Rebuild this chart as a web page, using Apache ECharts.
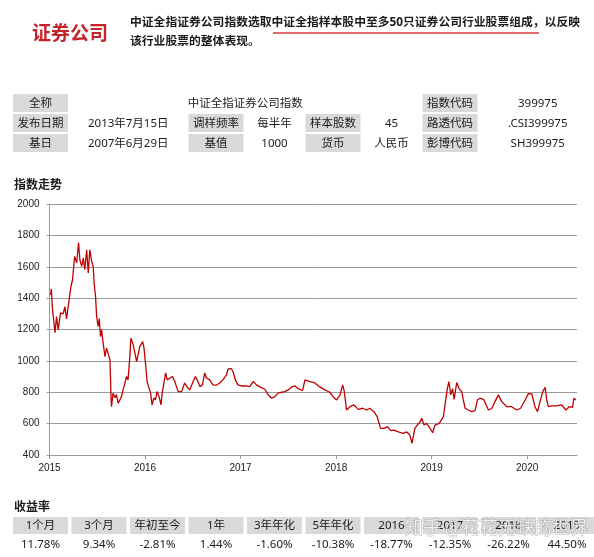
<!DOCTYPE html>
<html>
<head>
<meta charset="utf-8">
<script src="https://cdn.jsdelivr.net/npm/echarts@6/dist/echarts.min.js"></script>
<style>
  html, body { margin: 0; padding: 0; background: #fff; }
  #main { width: 594px; height: 557px; }
</style>
</head>
<body>
<div id="main"></div>
<script>
// 指数走势 (收盘点位，读图估计)
const dates = [
  '2015-01-05','2015-01-08','2015-01-12','2015-01-18','2015-01-22','2015-01-28','2015-02-03','2015-02-12','2015-02-22','2015-03-01',
  '2015-03-07','2015-03-17','2015-03-24','2015-03-30','2015-04-07','2015-04-15','2015-04-22','2015-04-27','2015-05-04','2015-05-10',
  '2015-05-16','2015-05-23','2015-05-29','2015-06-04','2015-06-11','2015-06-17','2015-06-21','2015-06-26','2015-06-30','2015-07-06',
  '2015-07-10','2015-07-15','2015-07-19','2015-07-25','2015-08-01','2015-08-07','2015-08-13','2015-08-20','2015-08-24','2015-08-26',
  '2015-09-01','2015-09-08','2015-09-14','2015-09-20','2015-09-27','2015-10-03','2015-10-09','2015-10-16','2015-10-22','2015-10-28',
  '2015-11-01','2015-11-04','2015-11-08','2015-11-17','2015-11-23','2015-11-30','2015-12-06','2015-12-12','2015-12-23','2015-12-28',
  '2016-01-04','2016-01-09','2016-01-16','2016-01-22','2016-01-28','2016-02-04','2016-02-10','2016-02-16','2016-02-24','2016-03-02',
  '2016-03-07','2016-03-14','2016-03-20','2016-03-26','2016-04-05','2016-04-15','2016-04-24','2016-05-07','2016-05-20','2016-06-01',
  '2016-06-10','2016-06-20','2016-07-01','2016-07-12','2016-07-22','2016-07-29','2016-08-08','2016-08-17','2016-08-23','2016-09-05',
  '2016-09-17','2016-09-30','2016-10-13','2016-10-26','2016-11-08','2016-11-14','2016-11-27','2016-12-03','2016-12-12','2016-12-22',
  '2017-01-05','2017-01-24','2017-02-05','2017-02-18','2017-03-03','2017-03-16','2017-04-04','2017-04-17','2017-04-30','2017-05-12',
  '2017-05-25','2017-06-07','2017-06-19','2017-07-02','2017-07-15','2017-07-28','2017-08-09','2017-08-26','2017-09-04','2017-09-23',
  '2017-10-12','2017-10-31','2017-11-19','2017-12-08','2017-12-21',
  '2018-01-03','2018-01-16','2018-01-26','2018-02-01','2018-02-10','2018-02-23','2018-03-10','2018-03-27','2018-04-13','2018-04-28',
  '2018-05-10','2018-05-26','2018-06-07','2018-06-20','2018-07-03','2018-07-16','2018-07-29','2018-08-10','2018-08-27','2018-09-15',
  '2018-09-28','2018-10-10','2018-10-18','2018-10-23','2018-10-29','2018-11-07','2018-11-18','2018-11-24','2018-12-03','2018-12-13',
  '2018-12-26',
  '2019-01-05','2019-01-14','2019-01-30','2019-02-15','2019-02-24','2019-03-02','2019-03-08','2019-03-15','2019-03-22','2019-03-28',
  '2019-04-07','2019-04-16','2019-04-26','2019-05-02','2019-05-09','2019-05-21','2019-06-03','2019-06-16','2019-06-25','2019-07-05',
  '2019-07-20','2019-08-06','2019-08-19','2019-08-31','2019-09-13','2019-09-26','2019-10-15','2019-11-03','2019-11-22','2019-12-07',
  '2019-12-24',
  '2020-01-06','2020-01-19','2020-01-31','2020-02-10','2020-02-19','2020-03-01','2020-03-10','2020-03-16','2020-03-22','2020-04-04',
  '2020-04-23','2020-05-12','2020-05-29','2020-06-10','2020-06-23','2020-06-28','2020-07-06'
];
const closes = [
  1421,1459,1338,1344,1179,1283,1198,1306,1300,1345,
  1268,1389,1474,1517,1666,1625,1755,1645,1602,1655,
  1581,1708,1560,1708,1634,1602,1485,1410,1283,1219,
  1270,1155,1198,1113,1027,1081,1089,1006,772,708,
  794,766,785,730,751,772,815,857,900,879,
  868,1027,1145,1102,1091,995,1006,1091,1123,1083,
  964,868,828,796,719,764,751,804,772,719,
  796,804,923,879,891,900,868,804,804,859,
  834,815,859,900,868,836,847,923,891,879,
  847,845,859,880,910,949,950,932,879,847,
  840,840,836,868,847,834,819,783,762,772,
  796,800,804,815,834,840,823,811,879,868,
  859,834,815,800,770,
  751,783,847,808,687,708,719,691,698,687,
  698,676,644,570,570,581,555,559,547,538,
  547,527,474,485,570,591,612,634,591,602,
  570,
  542,591,602,644,751,823,868,783,823,755,
  862,823,804,751,698,687,676,683,751,762,
  751,687,698,740,783,740,708,708,687,698,
  751,
  791,789,708,676,740,804,832,751,708,713,
  713,719,687,708,704,762,751
];
const yearTicks = [2015, 2016, 2017, 2018, 2019, 2020];
const axisEnd = '2020-07-10';

// 基本信息表
const infoRow1 = ['全称', '中证全指证券公司指数', '指数代码', '399975'];
const infoRow2 = ['发布日期', '2013年7月15日', '调样频率', '每半年', '样本股数', '45', '路透代码', '.CSI399975'];
const infoRow3 = ['基日', '2007年6月29日', '基值', '1000', '货币', '人民币', '彭博代码', 'SH399975'];

// 收益率
const returnLabels = ['1个月', '3个月', '年初至今', '1年', '3年年化', '5年年化', '2016', '2017', '2018', '2019'];
const returnValues = ['11.78%', '9.34%', '-2.81%', '1.44%', '-1.60%', '-10.38%', '-18.77%', '-12.35%', '-26.22%', '44.50%'];

function toYear (s) {
  const p = s.split('-').map(Number);
  const a = Date.UTC(p[0], 0, 1), b = Date.UTC(p[0] + 1, 0, 1);
  return p[0] + (Date.UTC(p[0], p[1] - 1, p[2]) - a) / (b - a);
}

const CJK = '"Noto Sans", "Noto Sans CJK SC", sans-serif';
const GRAY = '#d9d9d9';
const cellX = i => 13 + 58.5 * i;  // 每格左边
const cellW = 55;

let graphics = [];

function txt (x, y, text, font, align, fill) {
  graphics.push({
    type: 'text', x: x, y: y, silent: true,
    style: { text: text, font: font, fill: fill || '#1a1a1a', textAlign: align || 'center', textVerticalAlign: 'middle' }
  });
}
function box (x, y, w, h) {
  graphics.push({ type: 'rect', silent: true, shape: { x: x, y: y, width: w, height: h }, style: { fill: GRAY } });
}

// 标题 & 说明
txt(32, 33, '证券公司', 'bold 19px "Noto Sans CJK SC"', 'left', '#c4232a');
txt(130, 23, '中证全指证券公司指数选取中证全指样本股中至多50只证券公司行业股票组成，以反映', 'bold 11.8px ' + CJK, 'left');
txt(130, 42, '该行业股票的整体表现。', 'bold 11.8px ' + CJK, 'left');
graphics.push({ type: 'line', silent: true, shape: { x1: 273, y1: 33, x2: 539, y2: 33 }, style: { stroke: '#d9363e', lineWidth: 1.5 } });

// 信息表：每行的格子跨度
function infoRow (cells, spans, top) {
  let col = 0;
  cells.forEach((t, i) => {
    const x0 = cellX(col), x1 = cellX(col + spans[i] - 1) + cellW;
    if (i % 2 === 0) box(x0, top, x1 - x0, 18);
    txt((x0 + x1) / 2, top + 9.5, t, '11.5px ' + CJK, 'center');
    col += spans[i];
  });
}
infoRow(infoRow1, [1, 6, 1, 2], 94);
infoRow(infoRow2, [1, 2, 1, 1, 1, 1, 1, 2], 114);
infoRow(infoRow3, [1, 2, 1, 1, 1, 1, 1, 2], 134);

txt(14, 184, '指数走势', 'bold 12px "Noto Sans CJK SC"', 'left');

// 收益率表
txt(14, 506, '收益率', 'bold 12px "Noto Sans CJK SC"', 'left');
returnLabels.forEach((t, i) => {
  box(cellX(i), 517, cellW, 17);
  txt(cellX(i) + cellW / 2, 526, t, '11.5px ' + CJK, 'center');
  txt(cellX(i) + cellW / 2, 545, returnValues[i], '11.5px ' + CJK, 'center');
});

// 水印
graphics.push({
  type: 'text', x: 405, y: 527, silent: true,
  style: { text: '知乎 @花花无缺的世界', font: '18px "Noto Sans CJK SC"', fill: 'rgba(255,255,255,0.75)',
    stroke: 'rgba(110,110,110,0.45)', lineWidth: 1, textVerticalAlign: 'middle' }
});

const chart = echarts.init(document.getElementById('main'));
chart.setOption({
  animation: false,
  backgroundColor: '#fff',
  grid: { left: 49.5, right: 17, top: 204, bottom: 102 },
  xAxis: {
    type: 'value',
    min: 2015,
    max: toYear(axisEnd),
    interval: 1,
    splitLine: { show: false },
    axisLine: { lineStyle: { color: '#9a9a9a', width: 1 } },
    axisTick: { length: 4, lineStyle: { color: '#9a9a9a' }, customValues: yearTicks },
    axisLabel: {
      customValues: yearTicks,
      margin: 8,
      color: '#222',
      fontSize: 10,
      fontFamily: '"Liberation Sans", Arial',
      formatter: v => String(Math.round(v))
    }
  },
  yAxis: {
    type: 'value',
    min: 400,
    max: 2000,
    interval: 200,
    axisLine: { show: true, lineStyle: { color: '#9a9a9a', width: 1 } },
    axisTick: { show: true, length: 3, lineStyle: { color: '#9a9a9a' } },
    splitLine: { lineStyle: { color: '#9a9a9a', width: 1 } },
    axisLabel: {
      margin: 10, color: '#222', fontSize: 10, fontFamily: '"Liberation Sans", Arial',
      formatter: v => String(v)
    }
  },
  series: [{
    type: 'line',
    data: dates.map((d, i) => [toYear(d), closes[i]]),
    showSymbol: false,
    lineStyle: { color: '#c00000', width: 1.3 },
    z: 3
  }],
  graphic: graphics
});
</script>
</body>
</html>
